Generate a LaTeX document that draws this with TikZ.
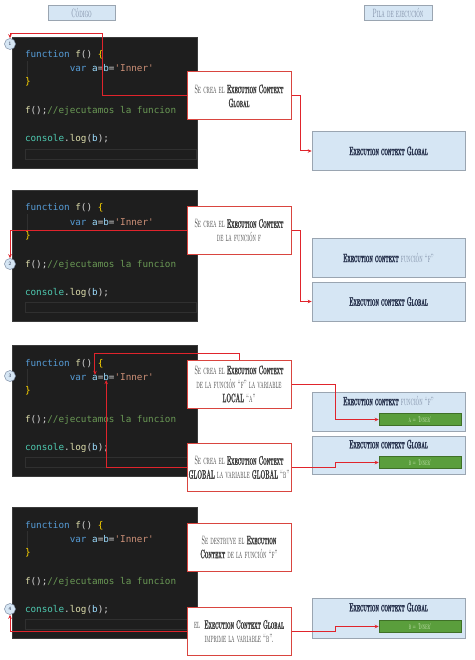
\documentclass[tikz,border=0pt]{standalone}
\usepackage{fontspec}
\setmonofont{DejaVu Sans Mono}
\newfontfamily\notefont[Extension=.otf,UprightFont=*-regular,BoldFont=*-regular,BoldFeatures={FakeBold=2.5},FakeStretch=0.47]{lmromancaps10}
\usetikzlibrary{arrows.meta,positioning}

\definecolor{codebg}{HTML}{1E1E1E}
\definecolor{codeframe}{HTML}{3A3A3A}
\definecolor{codeguide}{HTML}{303030}
\definecolor{plain}{HTML}{D4D4D4}
\definecolor{kwblue}{HTML}{569CD6}
\definecolor{fnyellow}{HTML}{DCDCAA}
\definecolor{varblue}{HTML}{9CDCFE}
\definecolor{strorange}{HTML}{CE9178}
\definecolor{cmtgreen}{HTML}{6A9955}
\definecolor{clsteal}{HTML}{4EC9B0}
\definecolor{brgold}{HTML}{FFD700}
\definecolor{redline}{HTML}{E0242C}
\definecolor{noteframe}{HTML}{D9453F}
\definecolor{notegray}{HTML}{444444}
\definecolor{ctxfill}{HTML}{D6E6F4}
\definecolor{ctxframe}{HTML}{9AA5B1}
\definecolor{ctxnavy}{HTML}{2A3550}
\definecolor{ctxlight}{HTML}{7C8BA3}
\definecolor{barfill}{HTML}{5A9E3C}
\definecolor{barframe}{HTML}{3F7027}
\definecolor{bartext}{HTML}{D2EBC0}

\tikzset{
    code box/.style={fill=codebg, draw=codeframe, minimum width=185, minimum height=131, inner sep=0pt},
    code/.style={inner sep=0pt, outer sep=0pt, anchor=base west, text=plain, font=\fontsize{9.3}{11}\ttfamily},
    guide/.style={draw=codeguide, line width=0.4pt},
    step mark/.style={circle, fill=ctxfill, draw=ctxlight, line width=0.5pt, minimum size=11, inner sep=0pt, font=\fontsize{5}{6}\selectfont\sffamily, text=ctxnavy},
    note box/.style={fill=white, draw=noteframe, line width=1pt, minimum width=104, minimum height=48, inner sep=1pt, align=center, text=notegray, font={\fontsize{12}{14}\notefont}},
    context box/.style={fill=ctxfill, draw=ctxframe, line width=0.7pt, minimum width=153, minimum height=39, inner sep=0pt, text=ctxnavy, font={\fontsize{12}{13}\notefont}},
    ctx title/.style={inner sep=0pt, text=ctxnavy, font={\fontsize{12}{13}\notefont}},
    var bar/.style={fill=barfill, draw=barframe, line width=0.5pt, minimum width=82, minimum height=12, inner sep=0pt, text=bartext, font={\fontsize{8.5}{9}\notefont}},
    head box/.style={fill=ctxfill, draw=ctxframe, line width=0.6pt, minimum width=67, minimum height=15, inner sep=0pt, text=ctxlight, font={\fontsize{12}{13}\notefont}},
    red line/.style={draw=redline, line width=1pt},
    red arr/.style={red line, -{Stealth[length=4pt,width=3.5pt]}},
}

% one screenshot of the code, #1 = name, #2 = top edge
\newcommand\codepanel[2]{%
    \begin{scope}[shift={(0,#2)}]
        \node[code box] (#1) at (104.5,65.5) {};
        \draw[guide] (27,24) -- (27,42);
        \draw[guide] (25,112) rectangle (196,122);
        \node[code] (#1-l1) at (25,21) {\textcolor{kwblue}{function} \textcolor{fnyellow}{f}() \textcolor{brgold}{\{}};
        \node[code] (#1-v) at (25,35) {\phantom{xxxxxxxx}\textcolor{kwblue}{var}\phantom{x}};
        \node[code] (#1-a) at (#1-v.base east) {\textcolor{varblue}{a}};
        \node[code] (#1-e) at (#1-a.base east) {=};
        \node[code] (#1-b) at (#1-e.base east) {\textcolor{varblue}{b}};
        \node[code] (#1-s) at (#1-b.base east) {=\textcolor{strorange}{'Inner'}};
        \node[code] (#1-l3) at (25,48) {\textcolor{brgold}{\}}};
        \node[code] (#1-l4) at (25,77) {\textcolor{fnyellow}{f}();\textcolor{cmtgreen}{//ejecutamos la funcion}};
        \node[code] (#1-l5) at (25,105) {\textcolor{clsteal}{console}.\textcolor{fnyellow}{log}(\textcolor{varblue}{b});};
    \end{scope}
}

\begin{document}
\begin{tikzpicture}[x=1pt,y=-1pt]
    \useasboundingbox (0,0) rectangle (474,660);

    \node[head box] (hcode) at (81.5,12.5) {Código};
    \node[head box, minimum width=68] (hstack) at (398,12.5) {Pila de ejecución};

    \codepanel{p1}{37}
    \codepanel{p2}{190}
    \codepanel{p3}{345}
    \codepanel{p4}{507}

    \node[step mark] (s1) at (10,44) {1};
    \node[step mark] (s2) at (10,264) {2};
    \node[step mark] (s3) at (10,376) {3};
    \node[step mark] (s4) at (10,609) {4};

    % panel 1
    \node[note box] (c1) at (239,96) {Se crea el \textbf{Execution Context}\\\textbf{Global}};
    \coordinate (k1) at (102,33.5);
    \draw[red arr] (c1.west) -| (k1) -| (s1.north);
    \node[context box] (g1) at (388.5,151) {\textbf{Execution context Global}};
    \draw[red arr] (c1.east) -- ++(9,0) |- (g1.west);

    % panel 2
    \node[note box] (c2) at (239,230.5) {Se crea el \textbf{Execution Context}\\de la función f};
    \draw[red arr] (c2.west) -| (s2.north);
    \node[context box] (f2) at (388.5,257.5) {\textbf{Execution context} \textcolor{ctxlight}{función “f”}};
    \node[context box] (g2) at (388.5,301.5) {\textbf{Execution context Global}};
    \draw[red arr] (c2.east) -- ++(9,0) |- (g2.west);

    % panel 3
    \node[note box] (c3a) at (239,384) {Se crea el \textbf{Execution Context}\\de la función “f” la variable\\\textbf{LOCAL} “a”};
    \node[note box] (c3b) at (239,467.5) {Se crea el \textbf{Execution Context}\\\textbf{GLOBAL} la variable \textbf{GLOBAL} “b”};
    \coordinate (k3) at (239,353.5);
    \draw[red arr] (c3a.north) -- (k3) -| (p3-a.north);
    \draw[red arr] (c3b.west) -| (p3-b.south);
    \node[context box] (f3) at (388.5,411.5) {};
    \node[ctx title, below=4pt of f3.north] (f3-t) {\textbf{Execution context} \textcolor{ctxlight}{función “f”}};
    \node[var bar] (va3) at (420,419.5) {a = 'Inner'};
    \node[context box, minimum height=38] (g3) at (388.5,455) {};
    \node[ctx title, below=4pt of g3.north] (g3-t) {\textbf{Execution context Global}};
    \node[var bar] (vb3) at (420,462.5) {b = 'Inner'};
    \draw[red arr] (c3a.east) -- ++(44,0) |- (va3.west);
    \draw[red arr] (c3b.east) -- ++(44,0) |- (vb3.west);

    % panel 4
    \node[note box] (c4a) at (239,547) {Se destruye el \textbf{Execution}\\\textbf{Context} de la función “f”};
    \node[note box] (c4b) at (239,631.5) {el \ \textbf{Execution Context Global}\\imprime la variable “b”.};
    \draw[red arr] (c4b.west) -| (s4.south);
    \node[context box, minimum height=40] (g4) at (388.5,618) {};
    \node[ctx title, below=5pt of g4.north] (g4-t) {\textbf{Execution context Global}};
    \node[var bar] (vb4) at (420,626.5) {b = 'Inner'};
    \draw[red arr] (c4b.east) -- ++(44,0) |- (vb4.west);
\end{tikzpicture}
\end{document}
